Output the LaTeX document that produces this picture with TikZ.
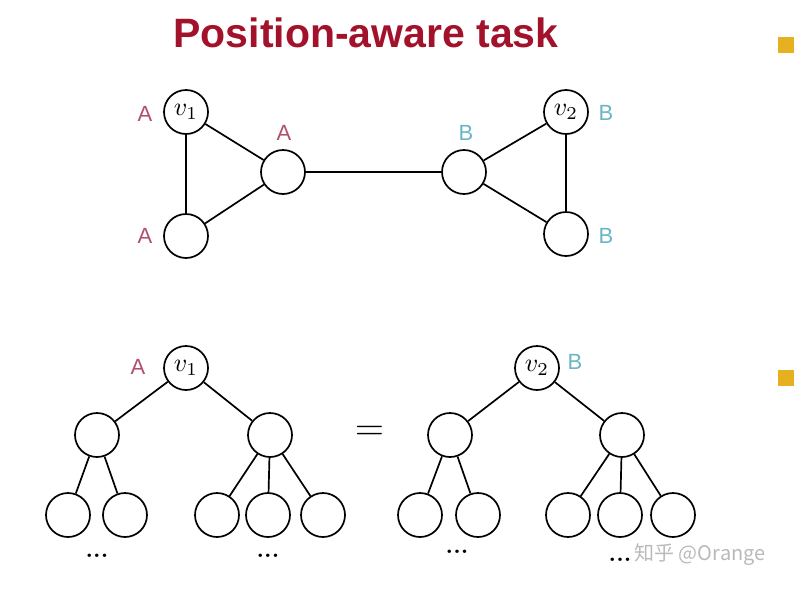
\documentclass[tikz,border=0pt]{standalone}
\usepackage{fontspec}
\usepackage{graphicx}
\newfontfamily\lsans{Liberation Sans}
\newfontfamily\cjk{Noto Sans CJK SC}
\begin{document}
\begin{tikzpicture}[x=1pt,y=-1pt,
  vtx/.style={circle,draw,line width=1.7pt,minimum size=44pt,inner sep=0pt},
  edge/.style={line width=1.7pt},
  la/.style={text=labA,font=\lsans\fontsize{22}{22}\selectfont},
  lb/.style={text=labB,font=\lsans\fontsize{22}{22}\selectfont},
  dots/.style={font=\bfseries\fontsize{24}{24}\selectfont}]
\definecolor{labA}{HTML}{B0506A}
\definecolor{labB}{HTML}{6AB6C6}
\definecolor{titlec}{HTML}{A3122B}
\definecolor{yel}{HTML}{E6B020}
\newcommand{\vlab}[1]{\scalebox{2.6}{$v_{#1}$}}
\useasboundingbox (0,0) rectangle (794,592);
\node[text=titlec,font=\lsans\bfseries\fontsize{41}{41}\selectfont] (title) at (366,33) {Position-aware task};
\fill[yel] (778,37) rectangle (794,53);
\fill[yel] (778,370) rectangle (794,386);
% top graph
\node[vtx] (a1) at (186,112) {\vlab1};
\node[vtx] (a2) at (283,172) {};
\node[vtx] (a3) at (186,236) {};
\node[vtx] (b2) at (464,172) {};
\node[vtx] (b1) at (566,112) {\vlab2};
\node[vtx] (b3) at (566,234) {};
\draw[edge] (a1)--(a2) (a1)--(a3) (a2)--(a3) (a2)--(b2) (b2)--(b1) (b2)--(b3) (b1)--(b3);
\node[la] (la1) at (145,114) {A};
\node[la] (la2) at (284,133) {A};
\node[la] (la3) at (145,236) {A};
\node[lb] (lb2) at (466,133) {B};
\node[lb] (lb1) at (606,113) {B};
\node[lb] (lb3) at (606,236) {B};
% tree 1
\node[vtx] (t1) at (186,368) {\vlab1};
\node[vtx] (t1l) at (97,435) {};
\node[vtx] (t1r) at (270,435) {};
\node[vtx] (t1a) at (68,515) {};
\node[vtx] (t1b) at (125,515) {};
\node[vtx] (t1c) at (217,515) {};
\node[vtx] (t1d) at (268,515) {};
\node[vtx] (t1e) at (323,515) {};
\draw[edge] (t1)--(t1l) (t1)--(t1r) (t1l)--(t1a) (t1l)--(t1b) (t1r)--(t1c) (t1r)--(t1d) (t1r)--(t1e);
\node[dots] (d1) at (97,556) {...};
\node[dots] (d2) at (268,556) {...};
\node[la] (lt1) at (138,367) {A};
\node[font=\fontsize{40}{40}\selectfont] (eq) at (370,433) {=};
% tree 2
\node[vtx] (t2) at (537,368) {\vlab2};
\node[vtx] (t2l) at (450,435) {};
\node[vtx] (t2r) at (622,435) {};
\node[vtx] (t2a) at (420,515) {};
\node[vtx] (t2b) at (478,515) {};
\node[vtx] (t2c) at (568,515) {};
\node[vtx] (t2d) at (620,515) {};
\node[vtx] (t2e) at (673,515) {};
\draw[edge] (t2)--(t2l) (t2)--(t2r) (t2l)--(t2a) (t2l)--(t2b) (t2r)--(t2c) (t2r)--(t2d) (t2r)--(t2e);
\node[dots] (d3) at (457,552) {...};
\node[dots] (d4) at (620,560) {...};
\node[lb] (lt2) at (575,362) {B};
\node[text=gray!55,font=\cjk\fontsize{20}{20}\selectfont] (wm) at (700,555) {知乎 @Orange};
\end{tikzpicture}
\end{document}
